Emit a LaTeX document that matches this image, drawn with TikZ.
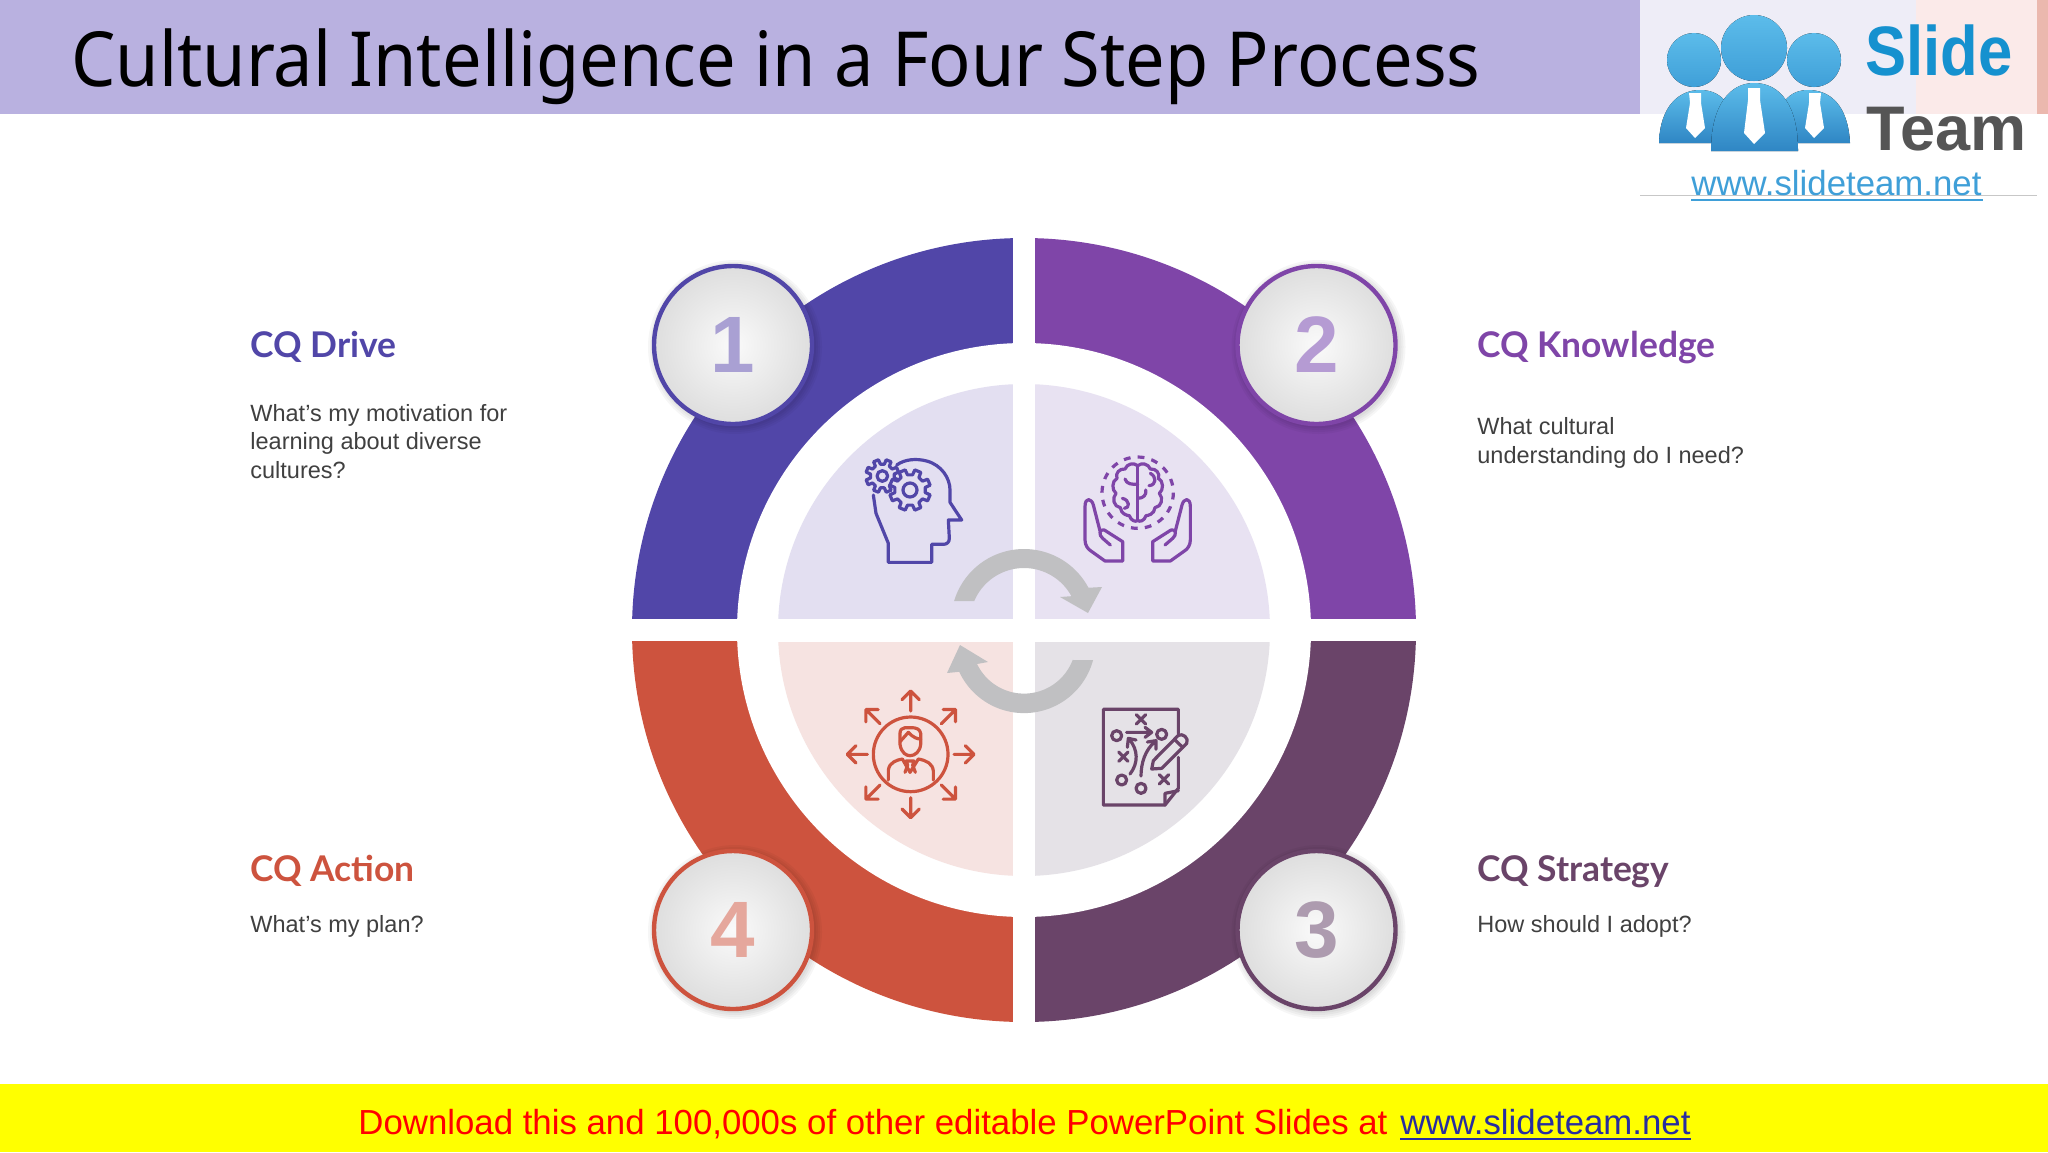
\documentclass[tikz,border=0pt]{standalone}
\usepackage{fontspec}
\usepackage{graphicx}
\setmainfont{Liberation Sans}
\newfontfamily\titlefont{Noto Sans}
\newfontfamily\headfont{Lato}
\usetikzlibrary{arrows.meta}
\definecolor{cqa}{HTML}{5146A8}
\definecolor{cqb}{HTML}{7F45A8}
\definecolor{cqc}{HTML}{6A4469}
\definecolor{cqd}{HTML}{CD533E}
\definecolor{lighta}{HTML}{E3DFF1}
\definecolor{lightb}{HTML}{E8E2F2}
\definecolor{lightc}{HTML}{E5E2E7}
\definecolor{lightd}{HTML}{F6E3E1}
\definecolor{numa}{HTML}{A9A0D3}
\definecolor{numb}{HTML}{B59BD3}
\definecolor{numc}{HTML}{AD9BAF}
\definecolor{numd}{HTML}{E5A79C}
\definecolor{bodygray}{HTML}{404040}
\definecolor{arrowgray}{HTML}{C0C0C2}
\definecolor{logoblue}{HTML}{3F9FD8}
\definecolor{logodark}{HTML}{2F86C4}
\definecolor{logohigh}{HTML}{5CBCEA}
\definecolor{slideblue}{HTML}{1591CF}
\definecolor{teamgray}{HTML}{555555}
\definecolor{bannerlilac}{HTML}{B9B1E0}
\definecolor{logotopa}{HTML}{EEEDF7}
\definecolor{logotopb}{HTML}{FBEAE9}
\definecolor{logoedge}{HTML}{EBB8AE}
\definecolor{footyellow}{HTML}{FFFF00}
\definecolor{footlink}{HTML}{282DA0}
\tikzset{
  headtext/.style={anchor=base west,inner sep=0pt,font=\headfont\bfseries\fontsize{17.7}{20}\selectfont},
  bodytext/.style={anchor=north west,inner sep=0pt,align=left,text=bodygray,font=\fontsize{11.75}{14.25}\selectfont},
  numdisc/.style={circle,draw=#1,line width=2.2pt,minimum size=79pt,inner sep=0pt,inner color=white!60!black!5,outer color=black!13,font=\bfseries\fontsize{40}{42}\selectfont},
  iconline/.style={line width=1.6pt,line join=round,line cap=round},
  zoomed/.style={x=0.16667pt,y=-0.16667pt},
}
\newcommand{\cqgear}[6]{% cx cy rin rout colour fill
  \draw[iconline,draw=#5,fill=#6] ({#1+#3},#2)
    \foreach \i in {0,...,7}{
      -- ({#1+#3*cos((\i+.5)*45-13)},{#2+#3*sin((\i+.5)*45-13)})
      -- ({#1+#4*cos((\i+.5)*45-9)},{#2+#4*sin((\i+.5)*45-9)})
      -- ({#1+#4*cos((\i+.5)*45+9)},{#2+#4*sin((\i+.5)*45+9)})
      -- ({#1+#3*cos((\i+.5)*45+13)},{#2+#3*sin((\i+.5)*45+13)})
    } -- cycle;
}
\newcommand{\softshadow}[2]{%
  \foreach \r in {81,83,85,87}{\fill[black,opacity=.035] (#1+2,#2+2) circle[radius=\r];}
}
\begin{document}
\begin{tikzpicture}[x=0.5pt,y=-0.5pt]
\useasboundingbox (0,0) rectangle (2048,1152);
\fill[white] (0,0) rectangle (2048,1152);
% top banner
\fill[bannerlilac] (0,0) rectangle (1640,114);
\fill[logotopa] (1640,0) rectangle (1916,114);
\fill[logotopb] (1916,0) rectangle (2037,114);
\fill[logoedge] (2037,0) rectangle (2048,114);
\node[anchor=base west,inner sep=0pt,text=black] (title) at (71,86)
  {\scalebox{.925}[1]{\titlefont\fontsize{38}{40}\selectfont Cultural Intelligence in a Four Step Process}};
% logo
\draw[line width=.5pt,draw=black!22] (1640,195) -- (2037,195);
\fill[top color=logohigh,bottom color=logodark] (1659,143) .. controls (1660,105) and (1680,90) .. (1700,90) .. controls (1725,90) and (1735,110) .. (1740,143) -- cycle;
\fill[top color=logohigh,bottom color=logodark] (1850,143) .. controls (1848,105) and (1830,90) .. (1808,90) .. controls (1785,90) and (1775,110) .. (1770,143) -- cycle;
\fill[top color=logohigh,bottom color=logodark] (1711,151) .. controls (1711,105) and (1730,83) .. (1754,83) .. controls (1780,83) and (1798,105) .. (1798,151) -- cycle;
\fill[top color=logohigh,bottom color=logoblue] (1694,60) circle[radius=27];
\fill[top color=logohigh,bottom color=logoblue] (1814,60) circle[radius=27];
\fill[top color=logohigh,bottom color=logoblue] (1754,48) circle[radius=33];
\fill[white] (1689,93) -- (1701,93) -- (1701,103) -- (1705,128) -- (1695,138) -- (1686,128) -- (1690,103) -- cycle;
\fill[white] (1809,93) -- (1821,93) -- (1820,103) -- (1824,128) -- (1814,138) -- (1805,128) -- (1809,103) -- cycle;
\fill[white] (1748,88) -- (1760,88) -- (1760,100) -- (1765,133) -- (1754,144) -- (1744,133) -- (1748,100) -- cycle;
\node[anchor=base west,inner sep=0pt,text=slideblue] (logoslide) at (1865,75) {\scalebox{.88}[1]{\bfseries\fontsize{35}{37}\selectfont Slide}};
\node[anchor=base west,inner sep=0pt,text=teamgray] (logoteam) at (1866,150) {\scalebox{1}[1]{\bfseries\fontsize{31.5}{33}\selectfont Team}};
\node[anchor=base west,inner sep=0pt,text=logoblue] (logourl) at (1691,195) {\fontsize{17.4}{19}\selectfont www.slideteam.net};
\draw[logoblue,line width=.8pt] (1691,200) -- (1983,200);
% ring
\begin{scope}
  \clip (1024,630) circle[radius=392];
  \fill[cqa] (600,200) rectangle (1012.7,618.5);
  \fill[cqb] (1035.3,200) rectangle (1450,618.5);
  \fill[cqc] (1035.3,641) rectangle (1450,1060);
  \fill[cqd] (600,641) rectangle (1012.7,1060);
\end{scope}
\fill[white] (1024,630) circle[radius=287];
\begin{scope}
  \clip (1024,630) circle[radius=246];
  \fill[lighta] (760,370) rectangle (1012.7,618.5);
  \fill[lightb] (1035.3,370) rectangle (1290,618.5);
  \fill[lightc] (1035.3,642) rectangle (1290,890);
  \fill[lightd] (760,642) rectangle (1012.7,890);
\end{scope}
% cycle arrows
\fill[arrowgray] plot[domain=196.7:332,samples=50] ({1024+73*cos(\x)},{622+73*sin(\x)})
  -- (1102,587) -- (1088,613) -- (1060,597) -- (1074,596)
  -- plot[domain=332:202.9,samples=50] ({1024+54*cos(\x)},{622+54*sin(\x)}) -- cycle;
\fill[arrowgray] plot[domain=15:155,samples=50] ({1024+71.5*cos(\x)},{641.6+71.5*sin(\x)})
  -- (947,673) -- (960,645) -- (988,662) -- (977,664)
  -- plot[domain=155:20.7,samples=50] ({1024+52*cos(\x)},{641.6+52*sin(\x)}) -- cycle;
% head icon
\begin{scope}[shift={(850,445)},zoomed]
  \draw[iconline,draw=cqa] (140,60) .. controls (165,42) and (200,40) .. (230,48)
    .. controls (275,60) and (300,100) .. (300,135) -- (300,172) -- (335,225) -- (295,225)
    -- (298,280) .. controls (298,292) and (290,298) .. (280,298) -- (245,298) -- (245,352) -- (115,352)
    -- (115,295) -- (78,205) -- (70,150);
  \cqgear{97}{93}{36}{50}{cqa}{lighta}
  \draw[iconline,draw=cqa] (97,93) circle[radius=16];
  \cqgear{180}{135}{46}{62}{cqa}{lighta}
  \draw[iconline,draw=cqa] (180,135) circle[radius=21];
\end{scope}
% brain and hands icon
\begin{scope}[shift={(1075,445)},zoomed]
  \draw[iconline,draw=cqb,line cap=butt,dash pattern=on 3.4pt off 3.6pt] (188,143) circle[radius=107];
  \foreach \s in {1,-1}{
    \begin{scope}[shift={(188,0)},xscale=\s]
      \draw[iconline,draw=cqb] (-113,258) -- (-133,180) .. controls (-138,160) and (-158,155) .. (-158,185)
        -- (-158,285) .. controls (-158,300) and (-150,312) .. (-140,318)
        -- (-98,348) -- (-45,348) -- (-45,290) -- (-100,255) .. controls (-115,250) and (-118,270) .. (-105,280) -- (-82,300);
      \draw[iconline,draw=cqb] (0,62) .. controls (-12,52) and (-32,56) .. (-38,72)
        .. controls (-55,70) and (-68,85) .. (-62,100) .. controls (-78,108) and (-78,135) .. (-65,145)
        .. controls (-78,160) and (-72,185) .. (-52,188) .. controls (-50,208) and (-30,212) .. (-25,212)
        .. controls (-20,228) and (-5,232) .. (0,226);
    \end{scope}
  }
  \draw[iconline,draw=cqb] (188,62) -- (188,226);
  \draw[iconline,draw=cqb] (150,102) .. controls (155,118) and (170,118) .. (188,118);
  \draw[iconline,draw=cqb] (226,85) .. controls (245,95) and (245,120) .. (222,122);
  \draw[iconline,draw=cqb] (188,160) .. controls (205,160) and (215,150) .. (212,135);
  \draw[iconline,draw=cqb] (142,160) .. controls (165,165) and (165,190) .. (148,190);
\end{scope}
% plan icon
\begin{scope}[shift={(1090,700)},zoomed]
  \draw[iconline,draw=cqc] (265,100) -- (265,28) -- (40,28) -- (40,315) -- (225,315) -- (265,265) -- (265,172);
  \draw[iconline,draw=cqc] (225,315) -- (225,280) -- (265,272);
  \foreach \cx/\cy in {80/107,215/103,95/240,153/265}{\draw[iconline,draw=cqc] (\cx,\cy) circle[radius=15];}
  \foreach \cx/\cy in {153/58,100/170,222/238}{
    \draw[iconline,draw=cqc] (\cx-14,\cy-14) -- (\cx+14,\cy+14) (\cx-14,\cy+14) -- (\cx+14,\cy-14);}
  \draw[iconline,draw=cqc] (110,97) -- (182,97) (165,82) -- (185,97) -- (165,112);
  \draw[iconline,draw=cqc] (120,222) .. controls (145,190) and (145,150) .. (118,118) (112,142) -- (115,115) -- (138,120);
  \draw[iconline,draw=cqc] (153,228) .. controls (153,190) and (165,150) .. (195,125) (172,126) -- (198,122) -- (198,148);
  \draw[iconline,draw=cqc] (185,207) -- (190,182) -- (265,106) .. controls (278,98) and (298,115) .. (290,130) -- (215,205) -- cycle;
  \draw[iconline,draw=cqc] (253,118) -- (278,142);
\end{scope}
% person icon
\begin{scope}[shift={(840,685)},zoomed]
  \draw[iconline,draw=cqd] (212,208) circle[radius=112];
  \foreach \a in {0,45,...,315}{
    \begin{scope}[shift={(212,208)},rotate=\a]
      \draw[iconline,draw=cqd] (130,0) -- (188,0) (164,-26) -- (190,0) -- (164,26);
    \end{scope}
  }
  \draw[iconline,draw=cqd] (180,145) -- (180,178) .. controls (184,205) and (200,212) .. (210,212)
    .. controls (225,212) and (240,200) .. (242,178) -- (242,145) .. controls (240,132) and (228,128) .. (215,128) -- (195,128) .. controls (186,128) and (180,135) .. (180,145) -- cycle;
  \draw[iconline,draw=cqd] (180,170) -- (205,142) .. controls (220,158) and (232,162) .. (242,162);
  \draw[iconline,draw=cqd] (145,285) -- (145,255) .. controls (148,232) and (170,225) .. (187,222) -- (210,262) -- (235,222) .. controls (258,226) and (278,235) .. (280,258) -- (280,285);
  \draw[iconline,draw=cqd] (198,228) -- (222,228) -- (218,240) -- (226,262) (198,228) -- (203,240) -- (195,262);
\end{scope}
% numbered discs
\softshadow{733}{345}
\softshadow{1316.5}{345}
\softshadow{1316.5}{930}
\softshadow{733}{930}
\node[numdisc=cqa,text=numa] (n1) at (733,345) {1};
\node[numdisc=cqb,text=numb] (n2) at (1316.5,345) {2};
\node[numdisc=cqc,text=numc] (n3) at (1316.5,930) {3};
\node[numdisc=cqd,text=numd] (n4) at (733,930) {4};
% labels
\node[headtext,text=cqa] (h1) at (250,357) {CQ Drive};
\node[bodytext] (b1) at (250,404) {What’s my motivation for\\learning about diverse\\cultures?};
\node[headtext,text=cqb] (h2) at (1477,357) {CQ Knowledge};
\node[bodytext] (b2) at (1477,417.5) {What cultural\\understanding do I need?};
\node[headtext,text=cqc] (h3) at (1477,881) {CQ Strategy};
\node[bodytext] (b3) at (1477,915.5) {How should I adopt?};
\node[headtext,text=cqd] (h4) at (250,881) {CQ Action};
\node[bodytext] (b4) at (250,915.5) {What’s my plan?};
% footer
\fill[footyellow] (0,1084) rectangle (2048,1152);
\node[anchor=base west,inner sep=0pt,text=red] (foot) at (358,1134)
  {\fontsize{17.4}{20}\selectfont Download this and 100,000s of other editable PowerPoint Slides at};
\node[anchor=base west,inner sep=0pt,text=footlink] (footurl) at (1400,1134)
  {\fontsize{17.4}{20}\selectfont www.slideteam.net};
\draw[footlink,line width=.8pt] ([yshift=-2.5pt]footurl.base west) -- ([yshift=-2.5pt]footurl.base east);
\end{tikzpicture}
\end{document}
